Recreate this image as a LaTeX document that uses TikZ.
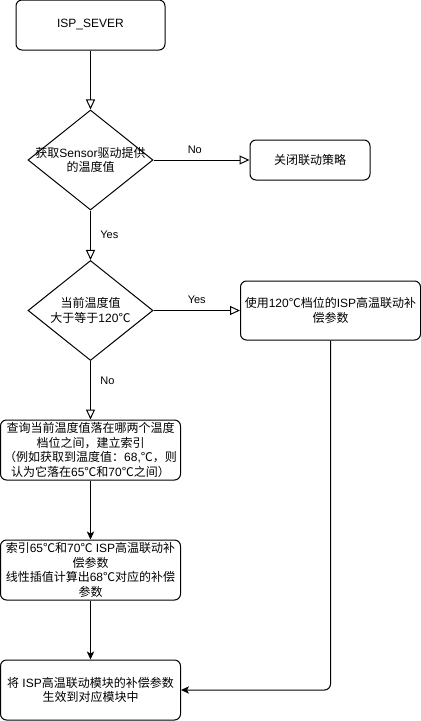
\documentclass[tikz,border=0pt]{standalone}
\usepackage{fontspec}
\setmainfont{Liberation Sans}
\newfontfamily\cjk{Noto Sans CJK SC}
\newcommand{\zh}[1]{{\cjk #1}}
\usetikzlibrary{shapes.geometric,arrows.meta}

\begin{document}
\begin{tikzpicture}[x=0.75pt,y=-0.75pt,
  font=\fontsize{9pt}{10.8pt}\selectfont,
  proc/.style={draw, rounded corners=4.5pt, line width=0.75pt, align=center, inner sep=0pt},
  decision/.style={draw, diamond, line width=0.75pt, inner sep=0pt,
    minimum width=93.75pt, minimum height=75pt},
  open arrow/.style={-{Triangle[open,length=7.5pt,width=6.75pt]}, line width=0.75pt},
  solid arrow/.style={-{Stealth[length=6pt,width=5.5pt,inset=1.5pt]}, line width=0.75pt},
  choice/.style={font=\fontsize{8.25pt}{9pt}\selectfont, inner sep=1pt}]
  \useasboundingbox (0,0) rectangle (421,721);

  % Boxes and decisions
  \node[proc, minimum width=111.75pt, minimum height=37.5pt] (start) at (90.5,25) {ISP\_SEVER};
  \node[decision, label={[align=center]center:\zh{获取}Sensor\zh{驱动提供}\\\zh{的温度值}}] (getT) at (90.5,160) {};
  \node[proc, minimum width=90pt, minimum height=30pt] (off) at (310,160) {\zh{关闭联动策略}};
  \node[decision, label={[align=center]center:\zh{当前温度值}\\\zh{大于等于}120\zh{℃}}] (high) at (90.5,310.5) {};
  \node[proc, minimum width=135pt, minimum height=44.25pt] (use120) at (330.5,310.5)
    {\zh{使用}120\zh{℃档位的}ISP\zh{高温联动补}\\\zh{偿参数}};
  \node[proc, minimum width=135pt, minimum height=45pt] (lookup) at (90.5,450)
    {\zh{查询当前温度值落在哪两个温度}\\\zh{档位之间，建立索引}\\\zh{（例如获取到温度值：}68,\zh{℃，则}\\\zh{认为它落在}65\zh{℃和}70\zh{℃之间）}};
  \node[proc, minimum width=135pt, minimum height=45pt] (interp) at (90.5,570)
    {\zh{索引}65\zh{℃和}70\zh{℃} ISP\zh{高温联动补}\\\zh{偿参数}\\\zh{线性插值计算出}68\zh{℃对应的补偿}\\\zh{参数}};
  \node[proc, minimum width=135pt, minimum height=45pt] (apply) at (90.5,690)
    {\zh{将} ISP\zh{高温联动模块的补偿参数}\\\zh{生效到对应模块中}};

  % Connectors
  \draw[open arrow] (start) -- (getT);
  \draw[open arrow] (getT) -- node[choice, pos=0.43, above=3.5pt] {No} (off);
  \draw[open arrow] (getT) -- node[choice, midway, right=6pt] {Yes} (high);
  \draw[open arrow] (high) -- node[choice, midway, above=3.5pt] {Yes} (use120);
  \draw[open arrow] (high) -- node[choice, pos=0.33, right=6pt] {No} (lookup);
  \draw[solid arrow] (lookup) -- (interp);
  \draw[solid arrow] (interp) -- (apply);
  \draw[solid arrow, rounded corners=4.5pt] (use120) |- (apply);
\end{tikzpicture}
\end{document}
